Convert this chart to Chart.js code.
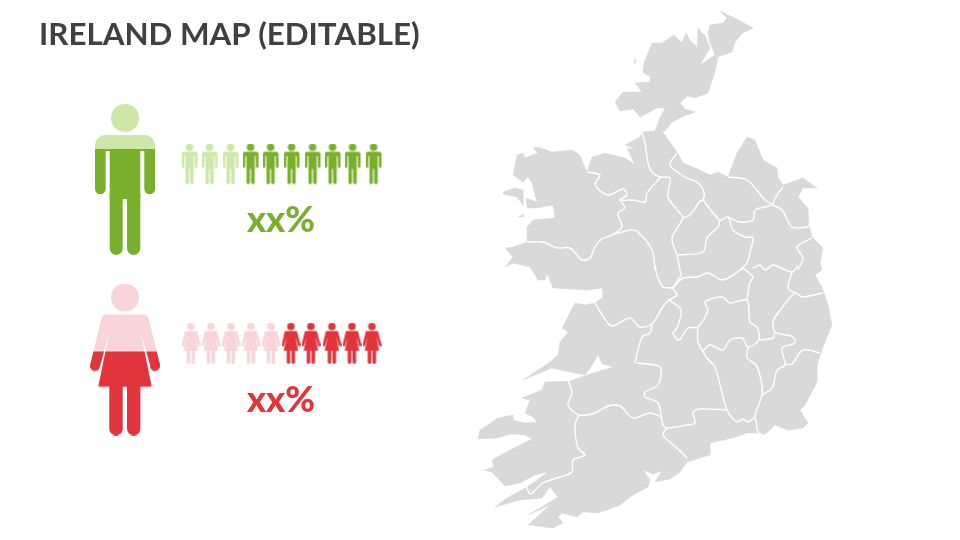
<!DOCTYPE html>
<html>
<head>
<meta charset="utf-8">
<style>
  html, body { margin: 0; padding: 0; background: #fff; }
  canvas { display: block; }
</style>
<script src="https://cdn.jsdelivr.net/npm/chart.js@4"></script>
</head>
<body>
<canvas id="mapChart" width="960" height="540"></canvas>
<script>
// Text labels
const labelTexts = ['IRELAND MAP (EDITABLE)', 'xx%', 'xx%'];
const labelX = [39, 281, 281];
const labelY = [35, 220, 400];

// People rows
const menIconX = [190, 210, 231, 251, 271, 292, 313, 333, 353, 374];
const womenIconX = [191, 211, 231, 251, 271, 291, 311, 332, 352, 372];
const menRowY = 164.5;
const womenRowY = 343.7;
const menLightCount = 3;
const womenLightCount = 5;
const bigFigureX = 125;
const bigManY = 180;
const bigWomanY = 359.5;

// Island outline, clockwise from Malin
const coast = [
  [720,11],[728,15],[735,18],[753,28],[743,33],[735,42],[732,52],[718,57],[715,72],[708,93],
  [695,98],[687,96],[680,103],[685,109],[695,112],[682,117],[672,122],[665,131],[662,131],
  [677,152],[683,163],[700,170],[710,175],[718,172],[728,177],[737,153],[747,137],[755,140],[763,160],[777,168],
  [778,177],[783,185],[803,178],[817,188],[803,188],[798,197],[808,208],[809,225],[812,237],[823,248],[820,263],
  [822,270],[815,275],[822,287],[828,305],[832,325],[823,347],[817,365],[817,382],[805,405],[800,410],[808,423],
  [803,428],[788,430],[775,425],[768,432],[763,435],[757,433],[747,433],[733,438],[710,443],[710,455],[687,462],
  [680,472],[670,479],[655,482],[662,471],[653,474],[643,470],[650,480],[648,487],[633,495],[620,505],[607,510],
  [598,513],[583,512],[577,517],[562,513],[558,517],[563,523],[553,528],[528,525],[550,505],[528,515],[558,497],
  [550,487],[542,498],[520,500],[495,507],[507,498],[527,487],[548,472],[535,475],[520,483],[505,486],[492,472],
  [484,470],[494,467],[492,460],[510,450],[532,439],[525,435],[510,434],[497,438],[478,439],[480,430],[498,418],
  [513,415],[513,420],[525,423],[537,422],[533,417],[525,413],[530,400],[522,398],[542,390],[545,382],
  [570,381],[593,373],[613,367],[602,364],[598,355],[592,365],[585,375],[570,372],[552,368],[523,380],
  [550,362],[558,355],[560,342],[568,332],[562,328],[575,303],[585,305],[595,303],[603,297],[602,288],[587,290],
  [553,288],[547,273],[545,280],[538,280],[530,267],[513,263],[505,267],[513,257],[505,248],[513,247],[527,242],
  [527,227],[533,220],[555,218],[553,205],[537,208],[527,208],[526,198],[537,202],[532,183],[528,177],[523,182],
  [513,175],[517,155],[523,153],[525,158],[532,155],[538,153],[533,148],[538,147],[552,152],[572,150],[580,155],
  [583,163],[587,172],[592,157],[605,153],[625,158],[635,165],[627,148],[637,150],[625,145],[640,137],[642,132],[655,131],
  [660,118],[665,108],[657,108],[650,112],[640,117],[633,109],[620,111],[615,102],[623,92],[642,92],[635,83],[650,82],
  [650,77],[643,72],[644,63],[652,43],[662,43],[674,35],[682,43],[686,33],[690,40],[697,47],[698,28],[702,33],[705,35],
  [710,48],[700,65],[715,55],[710,43],[708,33],[710,25],[723,23],[727,18],[720,11]
];

// Small islands off the west coast
const islands = [
  [[503,192],[515,188],[523,190],[523,205],[517,197],[503,194]],
  [[518,217],[524,214],[523,217]],
  [[634,58],[636,62],[634,64]]
];

// County borders
const borderLines = [
  [[642,132],[645,143],[648,163],[652,172],[660,177],[670,178],[668,197],[680,213],[683,218],[672,238],[677,255],[680,270],[681,275],[673,288],[677,295],[669,300],[662,308],[652,324],[640,327],[630,318],[613,326],[607,322],[595,303]],
  [[655,265],[657,275],[663,287],[673,288]],
  [[652,324],[650,333],[642,337],[635,363]],
  [[669,300],[681,310],[677,328],[673,333],[679,340],[688,328],[698,327],[708,310],[705,302],[722,297],[730,303],[747,300],[750,322],[757,327],[759,340],[748,347],[742,338],[730,340],[723,350],[710,345],[702,352]],
  [[698,327],[698,342],[707,358],[715,367],[727,410],[737,422],[743,419],[748,422],[755,418],[758,432],[763,435]],
  [[637,363],[660,367],[658,385],[645,392],[645,397],[658,403],[663,425],[667,428],[687,425],[695,423],[693,412],[700,409],[727,410]],
  [[667,428],[663,435],[677,448],[687,458]],
  [[568,380],[572,393],[568,405],[579,415],[595,413],[608,406],[620,406],[633,418],[650,413],[662,417]],
  [[579,415],[575,425],[578,448],[585,455],[573,460],[572,472],[560,477],[543,483],[530,494],[527,487]],
  [[748,347],[747,358],[756,365],[761,380],[762,395],[756,412],[755,418]],
  [[762,395],[772,388],[777,370],[785,365],[782,348],[795,343],[793,337],[775,332],[773,322],[778,313],[795,293],[802,297],[823,293]],
  [[785,364],[792,364],[803,350],[820,353]],
  [[759,340],[773,338],[775,332]],
  [[747,300],[750,282],[753,277],[743,268]],
  [[673,288],[683,278],[697,277],[708,273],[723,280],[743,268]],
  [[792,272],[788,288],[795,293]],
  [[753,268],[760,265],[765,270],[773,265],[792,272],[798,265]],
  [[587,172],[600,175],[595,185],[608,195],[623,189],[627,195],[620,200],[633,200],[645,202],[647,193],[660,178]],
  [[620,200],[625,208],[618,213],[622,227],[612,235],[602,239],[595,247],[590,258],[582,260],[570,248],[557,248],[543,242],[527,242]],
  [[612,235],[630,230],[638,232],[652,250],[655,270]],
  [[677,153],[670,163],[672,168],[687,178],[697,182],[704,192],[703,200],[700,201],[690,215],[683,218]],
  [[703,200],[720,220],[728,217],[733,230],[745,237],[753,238],[750,252],[747,263],[740,270]],
  [[728,217],[740,222],[753,220],[755,210],[772,205],[765,200],[747,180],[728,177]],
  [[772,205],[782,210],[792,227],[807,227],[809,225]],
  [[772,205],[777,195],[783,187]],
  [[720,220],[718,227],[707,238],[703,252],[678,255]],
  [[812,238],[797,247],[803,258],[798,270]]
];

const GREEN = '#7AAF2E';
const GREEN_LIGHT = '#CDE7A9';
const RED = '#E1343D';
const RED_LIGHT = '#F7D5D8';
const MAP_GREY = '#D9D9D9';

function roundLimb(c, x, y, w, h) {
  c.beginPath();
  c.roundRect(x, y, w, h, [0, 0, w / 2, w / 2]);
  c.fill();
}

// man is drawn in a box 60 wide, 152 high
function drawMan(c) {
  c.beginPath();
  c.arc(30, 14, 14, 0, Math.PI * 2);
  c.fill();
  c.beginPath();
  c.roundRect(0, 31, 60, 16, [10, 10, 0, 0]);
  c.fill();
  roundLimb(c, 0, 45, 10.7, 45.3);
  roundLimb(c, 49.3, 45, 10.7, 45.3);
  c.fillRect(14.7, 45, 30.6, 50);
  roundLimb(c, 14.7, 90, 13, 61);
  roundLimb(c, 32, 90, 13.3, 61);
}

// woman is drawn in a box 70 wide, 152 high
function drawWoman(c) {
  c.beginPath();
  c.arc(35, 14, 14, 0, Math.PI * 2);
  c.fill();
  c.beginPath();
  c.moveTo(16, 31);
  c.lineTo(54, 31);
  c.quadraticCurveTo(57, 31, 58.5, 35);
  c.lineTo(70, 81);
  c.arc(65, 82.5, 5, -0.3, Math.PI + 0.2, false);
  c.lineTo(50.7, 48.7);
  c.lineTo(61.7, 103.3);
  c.lineTo(8.3, 103.3);
  c.lineTo(19.3, 48.7);
  c.lineTo(10, 83);
  c.arc(5, 82.5, 5, -0.2, Math.PI + 0.3, false);
  c.lineTo(11.5, 35);
  c.quadraticCurveTo(13, 31, 16, 31);
  c.closePath();
  c.fill();
  roundLimb(c, 19.3, 100, 13.4, 52);
  roundLimb(c, 37, 100, 13.4, 52);
}

function makeIcon(draw, boxW, boxH, scale, top, bottom, split) {
  const cv = document.createElement('canvas');
  cv.width = Math.ceil(boxW * scale);
  cv.height = Math.ceil(boxH * scale);
  const c = cv.getContext('2d');
  c.scale(scale, scale);
  c.save();
  c.beginPath();
  c.rect(0, 0, boxW, split);
  c.clip();
  c.fillStyle = top;
  draw(c);
  c.restore();
  c.save();
  c.beginPath();
  c.rect(0, split, boxW, boxH - split);
  c.clip();
  c.fillStyle = bottom;
  draw(c);
  c.restore();
  return cv;
}

const SMALL = 0.27;
const manLight = makeIcon(drawMan, 60, 152, SMALL, GREEN_LIGHT, GREEN_LIGHT, 152);
const manDark = makeIcon(drawMan, 60, 152, SMALL, GREEN, GREEN, 152);
const womanLight = makeIcon(drawWoman, 70, 152, SMALL, RED_LIGHT, RED_LIGHT, 152);
const womanDark = makeIcon(drawWoman, 70, 152, SMALL, RED, RED, 152);
const manBig = makeIcon(drawMan, 60, 152, 1, GREEN_LIGHT, GREEN, 45);
const womanBig = makeIcon(drawWoman, 70, 152, 1, RED_LIGHT, RED, 68);

function iconSet(xs, y, lightCount, light, dark) {
  return {
    data: xs.map((x) => ({ x, y })),
    pointStyle: xs.map((x, i) => (i < lightCount ? light : dark)),
    showLine: false
  };
}

const pointsOf = (list) => list.map((p) => ({ x: p[0], y: p[1] }));

function landShape(list) {
  return {
    data: pointsOf(list),
    showLine: true,
    fill: 'shape',
    backgroundColor: MAP_GREY,
    borderColor: MAP_GREY,
    borderWidth: 0.5,
    pointRadius: 0,
    order: 2
  };
}

const textPlugin = {
  id: 'textLabels',
  afterDatasetsDraw(chart) {
    const { ctx, scales } = chart;
    ctx.save();
    ctx.textBaseline = 'middle';
    ctx.textAlign = 'left';
    ctx.font = 'bold 31.3px Lato';
    ctx.fillStyle = '#404040';
    ctx.fillText(labelTexts[0], scales.x.getPixelForValue(labelX[0]), scales.y.getPixelForValue(labelY[0]));
    ctx.textAlign = 'center';
    ctx.font = '900 36px Lato';
    ctx.fillStyle = GREEN;
    ctx.fillText(labelTexts[1], scales.x.getPixelForValue(labelX[1]), scales.y.getPixelForValue(labelY[1]));
    ctx.fillStyle = RED;
    ctx.fillText(labelTexts[2], scales.x.getPixelForValue(labelX[2]), scales.y.getPixelForValue(labelY[2]));
    ctx.restore();
  }
};

new Chart(document.getElementById('mapChart'), {
  type: 'scatter',
  data: {
    datasets: [
      ...borderLines.map((line) => ({
        data: pointsOf(line),
        showLine: true,
        borderColor: '#FFFFFF',
        borderWidth: 1.4,
        tension: 0.3,
        pointRadius: 0,
        order: 1
      })),
      landShape(coast),
      ...islands.map(landShape),
      iconSet(menIconX, menRowY, menLightCount, manLight, manDark),
      iconSet(womenIconX, womenRowY, womenLightCount, womanLight, womanDark),
      { data: [{ x: bigFigureX, y: bigManY }], pointStyle: manBig, showLine: false },
      { data: [{ x: bigFigureX, y: bigWomanY }], pointStyle: womanBig, showLine: false }
    ]
  },
  options: {
    responsive: false,
    animation: false,
    layout: { padding: 0, autoPadding: false },
    plugins: {
      legend: { display: false },
      title: { display: false },
      tooltip: { enabled: false }
    },
    scales: {
      x: { type: 'linear', display: false, min: 0, max: 960 },
      y: { type: 'linear', display: false, min: 0, max: 540, reverse: true }
    }
  },
  plugins: [textPlugin]
});
</script>
</body>
</html>
